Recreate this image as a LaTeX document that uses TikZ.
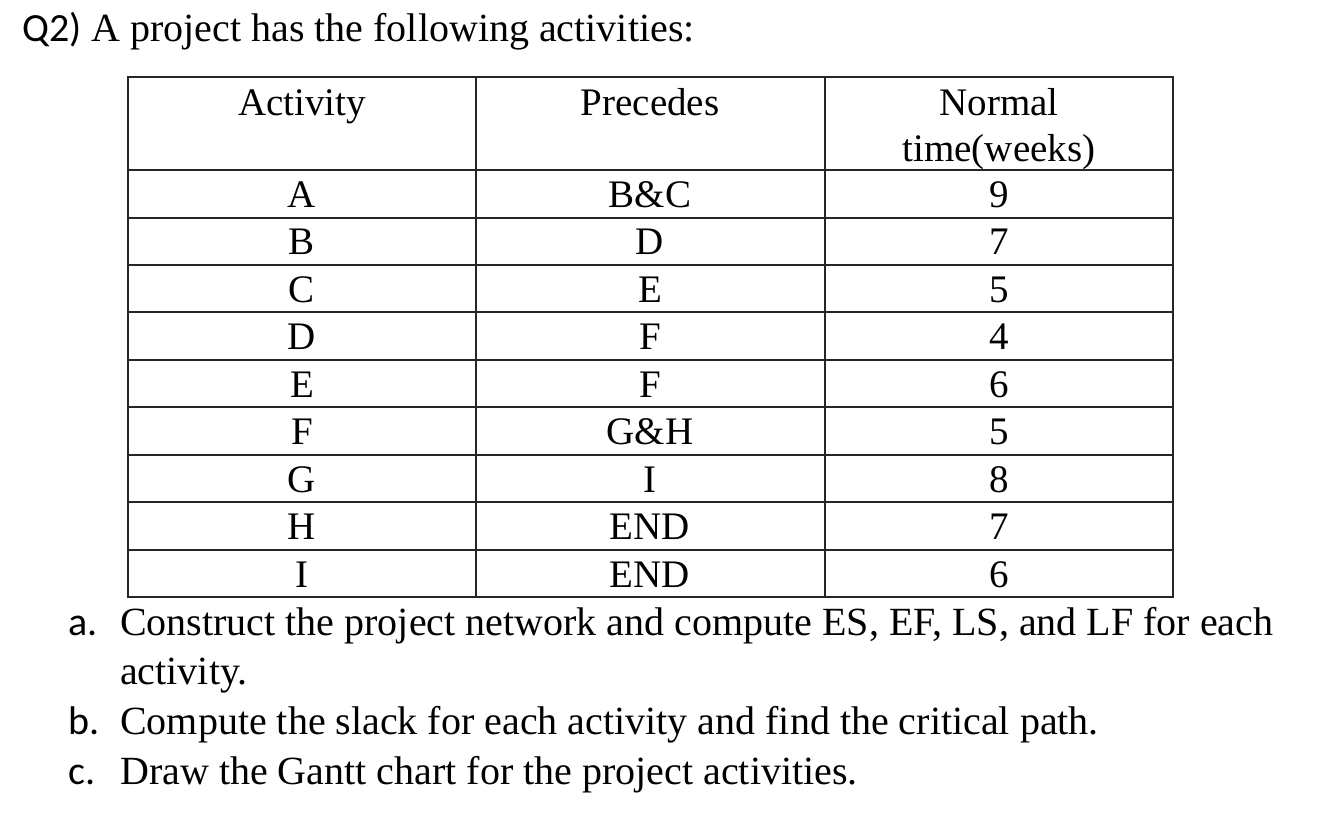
\documentclass[tikz,border=0pt]{standalone}
\usepackage{fontspec}
\setmainfont{Liberation Serif}
\newfontfamily\calfont{Carlito}
\begin{document}
\begin{tikzpicture}[x=1pt,y=-1pt,
  cell/.style={font=\fontsize{39}{44}\selectfont, inner sep=0pt, anchor=base},
  txt/.style={font=\fontsize{40}{45}\selectfont, inner sep=0pt, anchor=base west},
  grid/.style={line width=1.2pt, black!85}]
\useasboundingbox (0,0) rectangle (1322,816);
\node[txt] (title) at (22,42) {{\calfont Q2)} A project has the following activities:};
% table lines
\draw[grid] (128,77) rectangle (1173,597);
\foreach \y in {170,218,265,312,360,407,455,502,550} \draw[grid] (128,\y) -- (1173,\y);
\draw[grid] (476,77) -- (476,597);
\draw[grid] (825,77) -- (825,597);
\node[cell] (h1) at (302,115) {Activity};
\node[cell] (h2) at (650,115) {Precedes};
\node[cell] (h3a) at (999,115) {Normal};
\node[cell] (h3b) at (999,161) {time(weeks)};
\foreach \a/\p/\t/\y [count=\i] in {A/B\&C/9/207, B/D/7/254, C/E/5/302, D/F/4/349, E/F/6/397, F/G\&H/5/444, G/I/8/492, H/END/7/539, I/END/6/587} {
  \node[cell] (a\i) at (302,\y) {\a};
  \node[cell] (p\i) at (650,\y) {\p};
  \node[cell] (t\i) at (999,\y) {\t};
}
\node[txt] (la) at (68,635) {{\calfont a.}};
\node[txt] (qa) at (120,635) {Construct the project network and compute ES, EF, LS, and LF for each};
\node[txt] (qa2) at (120,684) {activity.};
\node[txt] (lb) at (68,734) {{\calfont b.}};
\node[txt] (qb) at (120,734) {Compute the slack for each activity and find the critical path.};
\node[txt] (lc) at (68,784) {{\calfont c.}};
\node[txt] (qc) at (120,784) {Draw the Gantt chart for the project activities.};
\end{tikzpicture}
\end{document}
